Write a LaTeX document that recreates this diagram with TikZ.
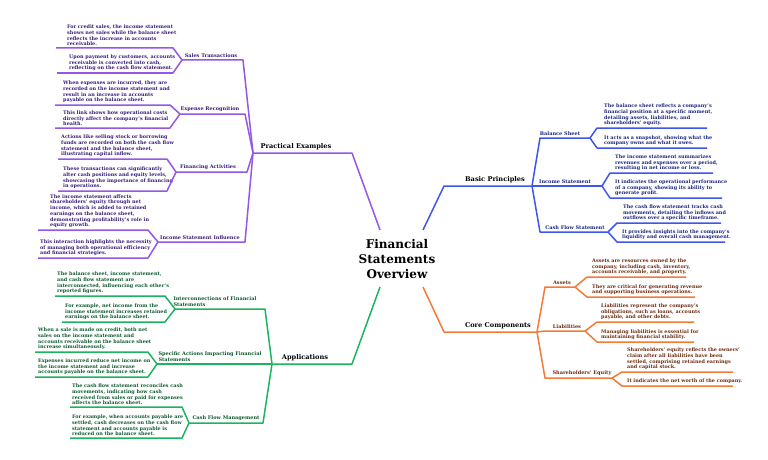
\documentclass[tikz,border=0pt]{standalone}
\usepackage{fontspec}
\setmainfont{DejaVu Serif}
\usetikzlibrary{positioning}
\definecolor{pe}{HTML}{9457E6}
\definecolor{pet}{HTML}{3A1C78}
\definecolor{bp}{HTML}{3E56EC}
\definecolor{bpt}{HTML}{1C2680}
\definecolor{cc}{HTML}{F47A38}
\definecolor{cct}{HTML}{6E2A10}
\definecolor{ap}{HTML}{1DB45F}
\definecolor{apt}{HTML}{0E5A30}
\tikzset{
  leaf/.style={font=\fontsize{4.9}{5.7}\selectfont\bfseries, align=left, inner sep=0pt, anchor=south west},
  sub/.style={font=\fontsize{5}{5.8}\selectfont\bfseries, align=left, inner sep=0pt, anchor=south},
  main/.style={font=\fontsize{6.6}{8}\selectfont\bfseries, inner sep=0pt, anchor=south},
  edge/.style={line width=1.5pt, line join=round}
}
% leaf: name, tip, inner x, outer x, y, text x, text
\newcommand\leaf[7]{%
  \coordinate (#1i) at (#3,#5);
  \coordinate (#1o) at (#4,#5);
  \node[leaf] (#1) at (#6,#5-2) {#7};
  \draw[edge] (#2) -- (#1i) -- (#1o);}
% sub: name, junction, spine x, tip x, y, label x, label
\newcommand\subb[7]{%
  \coordinate (#1s) at (#3,#5);
  \coordinate (#1) at (#4,#5);
  \node[sub] (#1t) at (#6,#5-2) {#7};
  \draw[edge] (#2) -- (#1s) -- (#1);}
\begin{document}
\begin{tikzpicture}[x=1pt,y=-1pt]
\useasboundingbox (0,0) rectangle (768,460);
\node[font=\fontsize{12}{15}\selectfont\bfseries, align=center] (root) at (397,259) {Financial\\Statements\\Overview};

% Practical Examples
\begin{scope}[pe, text=pet]
\coordinate (peJ) at (253,153);
\draw[edge] (380,230) -- (352,153) -- (peJ);
\node[main, text=black] (peT) at (296,150) {Practical Examples};
\subb{st}{peJ}{243}{182}{60}{211}{Sales Transactions}
\subb{er}{peJ}{245}{180}{114}{210}{Expense Recognition}
\subb{fa}{peJ}{247}{176}{172}{208}{Financing Activities}
\subb{isi}{peJ}{245}{158}{242}{200}{Income Statement Influence}
\leaf{st1}{st}{173}{56}{48}{67}{For credit sales, the income statement\\shows net sales while the balance sheet\\reflects the increase in accounts\\receivable.}
\leaf{st2}{st}{173}{57}{73}{69}{Upon payment by customers, accounts\\receivable is converted into cash,\\reflecting on the cash flow statement.}
\leaf{er1}{er}{170}{55}{105}{63}{When expenses are incurred, they are\\recorded on the income statement and\\result in an increase in accounts\\payable on the balance sheet.}
\leaf{er2}{er}{170}{55}{128}{63}{This link shows how operational costs\\directly affect the company's financial\\health.}
\leaf{fa1}{fa}{167}{58}{159}{61}{Actions like selling stock or borrowing\\funds are recorded on both the cash flow\\statement and the balance sheet,\\illustrating capital inflow.}
\leaf{fa2}{fa}{167}{58}{191}{63}{These transactions can significantly\\alter cash positions and equity levels,\\showcasing the importance of financing\\in operations.}
\leaf{isi1}{isi}{148}{38}{230}{50}{The income statement affects\\shareholders' equity through net\\income, which is added to retained\\earnings on the balance sheet,\\demonstrating profitability's role in\\equity growth.}
\leaf{isi2}{isi}{148}{38}{258}{40}{This interaction highlights the necessity\\of managing both operational efficiency\\and financial strategies.}
\end{scope}

% Applications
\begin{scope}[ap, text=apt]
\coordinate (apJ) at (272,364);
\draw[edge] (380,287) -- (352,364) -- (apJ);
\node[main, text=black] (apT) at (305,361) {Applications};
\subb{ic}{apJ}{265}{175}{309}{215}{Interconnections of Financial\\Statements}
\subb{sa}{apJ}{268}{157}{364}{210}{Specific Actions Impacting Financial\\Statements}
\subb{cf}{apJ}{263}{189}{423}{226}{Cash Flow Management}
\leaf{ic1}{ic}{165}{55}{296}{57}{The balance sheet, income statement,\\and cash flow statement are\\interconnected, influencing each other's\\reported figures.}
\leaf{ic2}{ic}{165}{62}{322}{65}{For example, net income from the\\income statement increases retained\\earnings on the balance sheet.}
\leaf{sa1}{sa}{148}{35}{352}{38}{When a sale is made on credit, both net\\sales on the income statement and\\accounts receivable on the balance sheet\\increase simultaneously.}
\leaf{sa2}{sa}{148}{35}{377}{38}{Expenses incurred reduce net income on\\the income statement and increase\\accounts payable on the balance sheet.}
\leaf{cf1}{cf}{182}{70}{407}{72}{The cash flow statement reconciles cash\\movements, indicating how cash\\received from sales or paid for expenses\\affects the balance sheet.}
\leaf{cf2}{cf}{182}{70}{438}{72}{For example, when accounts payable are\\settled, cash decreases on the cash flow\\statement and accounts payable is\\reduced on the balance sheet.}
\end{scope}

% Basic Principles
\begin{scope}[bp, text=bpt]
\coordinate (bpJ) at (532,186);
\draw[edge] (423,230) -- (444,186) -- (bpJ);
\node[main, text=black] (bpT) at (495,183) {Basic Principles};
\subb{bs}{bpJ}{540}{590}{138}{560}{Balance Sheet}
\subb{is}{bpJ}{540}{602}{186}{565}{Income Statement}
\subb{cfs}{bpJ}{540}{608}{232}{575}{Cash Flow Statement}
\leaf{bs1}{bs}{597}{707}{128}{604}{The balance sheet reflects a company's\\financial position at a specific moment,\\detailing assets, liabilities, and\\shareholders' equity.}
\leaf{bs2}{bs}{597}{707}{148}{604}{It acts as a snapshot, showing what the\\company owns and what it owes.}
\leaf{is1}{is}{610}{713}{173}{615}{The income statement summarizes\\revenues and expenses over a period,\\resulting in net income or loss.}
\leaf{is2}{is}{610}{722}{198}{615}{It indicates the operational performance\\of a company, showing its ability to\\generate profit.}
\leaf{cfs1}{cfs}{617}{721}{223}{623}{The cash flow statement tracks cash\\movements, detailing the inflows and\\outflows over a specific timeframe.}
\leaf{cfs2}{cfs}{617}{725}{242}{622}{It provides insights into the company's\\liquidity and overall cash management.}
\end{scope}

% Core Components
\begin{scope}[cc, text=cct]
\coordinate (ccJ) at (537,332);
\draw[edge] (423,287) -- (444,332) -- (ccJ);
\node[main, text=black] (ccT) at (498,329) {Core Components};
\subb{as}{ccJ}{545}{575}{287}{562}{Assets}
\subb{li}{ccJ}{545}{585}{331}{567}{Liabilities}
\subb{se}{ccJ}{545}{612}{378}{582}{Shareholders' Equity}
\leaf{as1}{as}{587}{686}{277}{592}{Assets are resources owned by the\\company, including cash, inventory,\\accounts receivable, and property.}
\leaf{as2}{as}{587}{695}{297}{592}{They are critical for generating revenue\\and supporting business operations.}
\leaf{li1}{li}{597}{694}{322}{601}{Liabilities represent the company's\\obligations, such as loans, accounts\\payable, and other debts.}
\leaf{li2}{li}{597}{694}{342}{601}{Managing liabilities is essential for\\maintaining financial stability.}
\leaf{se1}{se}{622}{733}{372}{627}{Shareholders' equity reflects the owners'\\claim after all liabilities have been\\settled, comprising retained earnings\\and capital stock.}
\leaf{se2}{se}{622}{733}{386}{627}{It indicates the net worth of the company.}
\end{scope}
\end{tikzpicture}
\end{document}
